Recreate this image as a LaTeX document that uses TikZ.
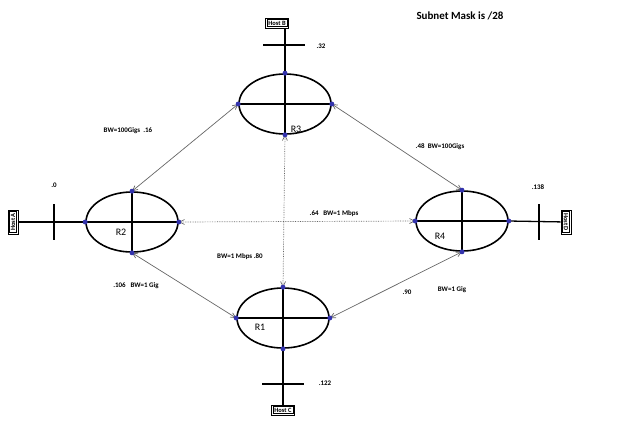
\documentclass[tikz,border=0pt]{standalone}
\usepackage{fontspec}
\setmainfont{Carlito}
\usetikzlibrary{shapes.geometric,arrows.meta}
\setlength{\fboxsep}{1.2pt}
\setlength{\fboxrule}{0.6pt}
\begin{document}
\begin{tikzpicture}[x=1bp,y=-1bp,
  rtr/.style={ellipse,draw,line width=1.6pt,minimum width=92bp,minimum height=60bp,inner sep=0pt},
  hostbox/.style={draw,line width=0.7pt,fill=white,font=\fontsize{6.5}{7}\selectfont\bfseries,inner sep=1.2pt},
  lbl/.style={font=\fontsize{7}{8}\selectfont\bfseries,text=black},
  rl/.style={font=\fontsize{10}{11}\selectfont},
  link/.style={draw=black!60,line width=0.7pt,{Straight Barb[length=5pt,width=5pt]}-{Straight Barb[length=5pt,width=5pt]}},
  dlink/.style={link,densely dotted},
  wire/.style={line width=1.3pt},
  dot/.style={circle,fill=blue!60!black!80,inner sep=0pt,minimum size=5pt}]
\useasboundingbox (0,0) rectangle (625,423);
\node[rtr] (R3) at (285,104) {};
\node[rtr] (R2) at (132,222) {};
\node[rtr] (R4) at (462,221) {};
\node[rtr] (R1) at (283,318) {};
\foreach \r in {R1,R2,R3,R4}{
  \draw[wire] (\r.north) -- (\r.south);
  \draw[wire] (\r.west) -- (\r.east);
}
\node[rl] at (296,129) {R3};
\node[rl] at (121,232) {R2};
\node[rl] at (440,236) {R4};
\node[rl] at (260,327) {R1};
% hosts
\node[hostbox] (HB) at (277,23) {\fbox{Host B}};
\node[hostbox] (HC) at (283,410) {\fbox{Host C}};
\node[hostbox,rotate=90] (HA) at (13,222) {\fbox{Host A}};
\node[hostbox,rotate=-90] (HD) at (566,222) {\fbox{Host D}};
\coordinate (HBs) at (HB.south -| R3.north);
\draw[wire] (HBs) -- (R3.north);
\draw[wire] (R1.south) -- (HC);
\draw[wire] (HA) -- (R2.west);
\draw[wire] (R4.east) -- (HD);
\draw[line width=2pt] (263,45) -- (305,45);
\draw[line width=2pt] (262,384) -- (304,384);
\draw[line width=2pt] (54,204) -- (54,240);
\draw[line width=2pt] (539,204) -- (539,240);
% links
\draw[link] (R2.north) -- (R3.west);
\draw[link] (R3.east) -- (R4.north);
\draw[link] (R2.south) -- (R1.west);
\draw[link] (R1.east) -- (R4.south);
\draw[dlink] (R3.south) -- (R1.north);
\draw[dlink] (R2.east) -- (R4.west);
\foreach \r in {R1,R2,R3,R4}{
  \foreach \a in {north,south,east,west} \node[dot] at (\r.\a) {};
}
% labels
\node[lbl] at (54,185) {.0};
\node[lbl] at (321,46) {.32};
\node[lbl] at (325,383) {.122};
\node[lbl] at (538,187) {.138};
\node[lbl] at (128,131) {BW=100Gigs\ \ .16};
\node[lbl] at (440,147) {.48\ \ BW=100Gigs};
\node[lbl] at (334,214) {.64\ \ \ BW=1 Mbps};
\node[lbl] at (240,257) {BW=1 Mbps .80};
\node[lbl] at (136,286) {.106\ \ \ BW=1 Gig};
\node[lbl] at (407,292) {.90};
\node[lbl] at (452,290) {BW=1 Gig};
\node[font=\fontsize{11}{13}\selectfont\bfseries] at (460,16) {Subnet Mask is /28};
\end{tikzpicture}
\end{document}
